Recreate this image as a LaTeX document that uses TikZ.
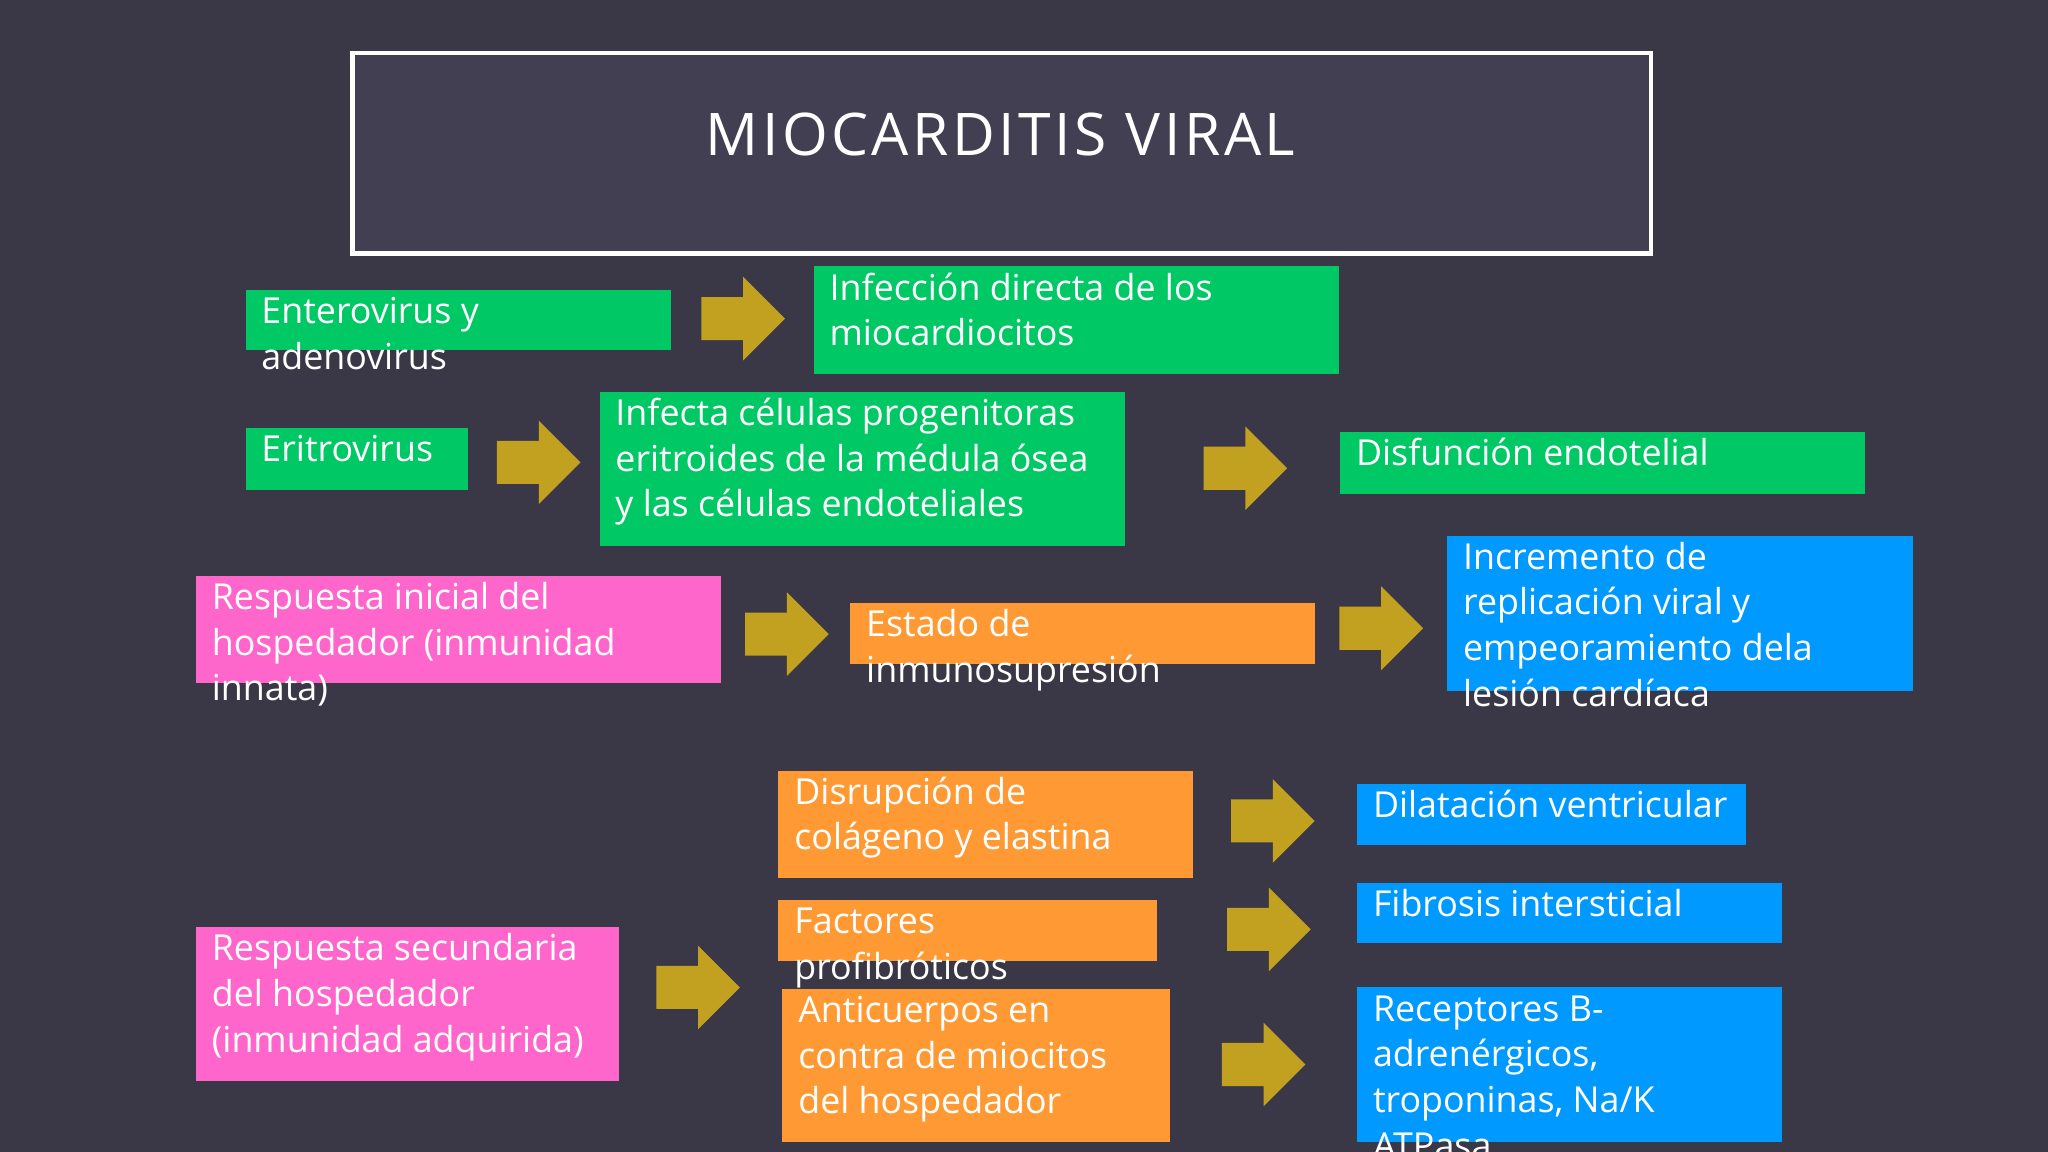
\documentclass[tikz,border=0pt]{standalone}
\usepackage{fontspec}
\setmainfont{Open Sans}
\newfontfamily\titlefont[LetterSpace=6]{Open Sans}
\usepackage{tikz}
\usetikzlibrary{positioning}
\definecolor{bgcolor}{HTML}{3A3847}
\definecolor{titlecolor}{HTML}{433F53}
\definecolor{greencolor}{HTML}{00C864}
\definecolor{pinkcolor}{HTML}{FF66CC}
\definecolor{orangecolor}{HTML}{FF9933}
\definecolor{bluecolor}{HTML}{0099FF}
\definecolor{arrowgold}{HTML}{C2A020}
\tikzstyle{cbox} = [rectangle, draw=none, inner sep=0, outer sep=0,
anchor=north west]
\tikzstyle{greenbox} = [cbox, fill=greencolor]
\tikzstyle{pinkbox} = [cbox, fill=pinkcolor]
\tikzstyle{orangebox} = [cbox, fill=orangecolor]
\tikzstyle{bluebox} = [cbox, fill=bluecolor]
\tikzstyle{txt} = [anchor=north west, inner sep=0, xshift=12pt, yshift=-1pt,
align=left, text=white, font=\fontsize{27.4}{35}\selectfont]
\tikzset{pics/goldarrow/.style={code={
  \fill[arrowgold] (-32,-16.5) -- (0,-16.5) -- (0,-32) -- (32,0)
    -- (0,32) -- (0,16.5) -- (-32,16.5) -- cycle;}}}

\begin{document}
\begin{tikzpicture}[x=1pt, y=-1pt]
\fill[bgcolor] (0,0) rectangle (1568,882);
\useasboundingbox (0,0) rectangle (1568,882);

%-----------title
\node (title) [cbox, fill=titlecolor, draw=white, line width=3.5pt,
  minimum width=994, minimum height=153.5] at (270,40.5) {};
\node (titletxt) [text=white, font=\titlefont\fontsize{45}{50}\selectfont]
  at (766,103) {MIOCARDITIS VIRAL};

%-----------virus
\node (entero) [greenbox, minimum width=326, minimum height=46] at (188,222) {};
\node (enterotxt) [txt] at (entero.north west) {\strut Enterovirus y\\adenovirus};
\node (directa) [greenbox, minimum width=402, minimum height=82] at (623,204) {};
\node (directatxt) [txt] at (directa.north west)
  {\strut Infección directa de los\\miocardiocitos};
\node (eritro) [greenbox, minimum width=170, minimum height=47] at (188,328) {};
\node (eritrotxt) [txt] at (eritro.north west) {\strut Eritrovirus};
\node (progen) [greenbox, minimum width=402, minimum height=118] at (459,300) {};
\node (progentxt) [txt] at (progen.north west)
  {\strut Infecta células progenitoras\\eritroides de la médula ósea\\y las células endoteliales};
\node (endot) [greenbox, minimum width=402, minimum height=47] at (1026,331) {};
\node (endottxt) [txt] at (endot.north west) {\strut Disfunción endotelial};

%-----------respuesta inicial
\node (innata) [pinkbox, minimum width=402, minimum height=82] at (150,441) {};
\node (innatatxt) [txt] at (innata.north west)
  {\strut Respuesta inicial del\\hospedador (inmunidad\\innata)};
\node (inmuno) [orangebox, minimum width=356, minimum height=46] at (651,462) {};
\node (inmunotxt) [txt] at (inmuno.north west) {\strut Estado de\\inmunosupresión};
\node (replic) [bluebox, minimum width=357, minimum height=119] at (1108,410) {};
\node (replictxt) [txt] at (replic.north west)
  {\strut Incremento de\\replicación viral y\\empeoramiento dela\\lesión cardíaca};

%-----------respuesta secundaria
\node (adquir) [pinkbox, minimum width=324, minimum height=118] at (150,710) {};
\node (adquirtxt) [txt] at (adquir.north west)
  {\strut Respuesta secundaria\\del hospedador\\(inmunidad adquirida)};
\node (colag) [orangebox, minimum width=317, minimum height=82] at (596,590) {};
\node (colagtxt) [txt] at (colag.north west) {\strut Disrupción de\\colágeno y elastina};
\node (profib) [orangebox, minimum width=290, minimum height=47] at (596,689) {};
\node (profibtxt) [txt] at (profib.north west) {\strut Factores\\profibróticos};
\node (anticu) [orangebox, minimum width=297, minimum height=117] at (599,757) {};
\node (anticutxt) [txt] at (anticu.north west)
  {\strut Anticuerpos en\\contra de miocitos\\del hospedador};
\node (dilat) [bluebox, minimum width=298, minimum height=47] at (1039,600) {};
\node (dilattxt) [txt] at (dilat.north west) {\strut Dilatación ventricular};
\node (fibro) [bluebox, minimum width=325, minimum height=46] at (1039,676) {};
\node (fibrotxt) [txt] at (fibro.north west) {\strut Fibrosis intersticial};
\node (recep) [bluebox, minimum width=325, minimum height=118] at (1039,756) {};
\node (receptxt) [txt] at (recep.north west)
  {\strut Receptores B-\\adrenérgicos,\\troponinas, Na/K\\ATPasa};

%-----------arrows
\pic (arrentero) at (569,244) {goldarrow};
\pic (arreritro) at (412.5,354) {goldarrow};
\pic (arrprogen) at (953.5,358.5) {goldarrow};
\pic (arrinnata) at (602.5,485.5) {goldarrow};
\pic (arrinmuno) at (1057.5,481) {goldarrow};
\pic (arrcolag) at (974.5,628.5) {goldarrow};
\pic (arrprofib) at (971.5,711.5) {goldarrow};
\pic (arradquir) at (534.5,756) {goldarrow};
\pic (arranticu) at (967.5,815) {goldarrow};

\end{tikzpicture}
\end{document}
